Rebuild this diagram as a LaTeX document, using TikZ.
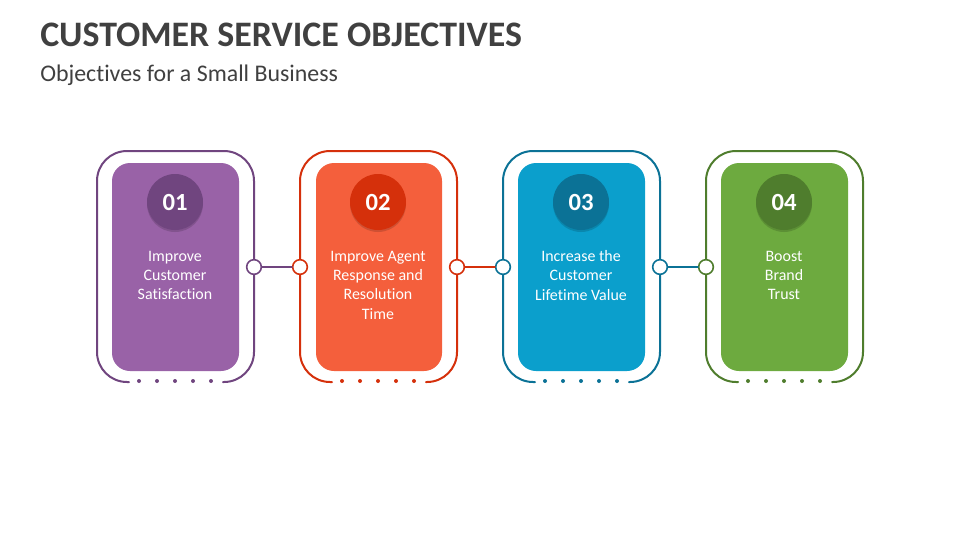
\documentclass[tikz,border=0pt]{standalone}
\usepackage{fontspec}
\setmainfont{Carlito}[Ligatures=NoCommon]
\definecolor{purplefill}{HTML}{9962A7}
\definecolor{purpledark}{HTML}{70457F}
\definecolor{orangefill}{HTML}{F45F3C}
\definecolor{orangedark}{HTML}{D5300B}
\definecolor{bluefill}{HTML}{0B9FCC}
\definecolor{bluedark}{HTML}{0B7296}
\definecolor{greenfill}{HTML}{6DAA3F}
\definecolor{greendark}{HTML}{4F7D2D}
\definecolor{titlegray}{HTML}{404040}
\tikzset{
  frameline/.style={line width=1.5pt,rounded corners=22.5pt},
  cardbox/.style={rounded corners=13.5pt},
  numdisc/.style={circle,minimum size=42pt,inner sep=0pt,text=white,font=\fontsize{18.5}{20}\selectfont\bfseries},
  discshadow/.style={circle,minimum size=42pt,inner sep=0pt,fill=black,opacity=0.15},
  cardtext/.style={text=white,align=center,anchor=north,execute at begin node=\strut,font=\fontsize{11.95}{14.4}\selectfont},
  portdot/.style={circle,draw,fill=white,line width=1.2pt,minimum size=11pt,inner sep=0pt},
  framedot/.style={circle,minimum size=3pt,inner sep=0pt}
}
\begin{document}
\begin{tikzpicture}[line cap=round,line join=round,x=0.75pt,y=-0.75pt]
\useasboundingbox (0,0) rectangle (960,540);
\node[anchor=base west,inner sep=0pt,text=titlegray,font=\fontsize{26.9}{30}\selectfont\bfseries] (title) at (40,46) {CUSTOMER SERVICE OBJECTIVES};
\node[anchor=base west,inner sep=0pt,text=titlegray,font=\fontsize{17.9}{20}\selectfont] (subtitle) at (40,81) {Objectives for a Small Business};
% first card
\draw[frameline,purpledark] (129,382)-- (97,382)-- (97,151)-- (254,151)-- (254,382)-- (223,382);
\fill[cardbox,purplefill] (112,163) rectangle (239,371);
\node[discshadow] (shadowa) at (175,204) {};
\node[numdisc,fill=purpledark] (disca) at (175,202) {01};
\node[cardtext] (texta) at (175,246.5) {Improve\\Customer\\Satisfaction};
\node[framedot,fill=purpledark] (dota1) at (139,381) {};
\node[framedot,fill=purpledark] (dota2) at (157,381) {};
\node[framedot,fill=purpledark] (dota3) at (175,381) {};
\node[framedot,fill=purpledark] (dota4) at (193,381) {};
\node[framedot,fill=purpledark] (dota5) at (211,381) {};
% second card
\draw[frameline,orangedark] (332,382)-- (300,382)-- (300,151)-- (457,151)-- (457,382)-- (426,382);
\fill[cardbox,orangefill] (316,163) rectangle (442,371);
\node[discshadow] (shadowb) at (378,204) {};
\node[numdisc,fill=orangedark] (discb) at (378,202) {02};
\node[cardtext] (textb) at (378,246.5) {Improve Agent\\Response and\\Resolution\\Time};
\node[framedot,fill=orangedark] (dotb1) at (342,381) {};
\node[framedot,fill=orangedark] (dotb2) at (360,381) {};
\node[framedot,fill=orangedark] (dotb3) at (378,381) {};
\node[framedot,fill=orangedark] (dotb4) at (396,381) {};
\node[framedot,fill=orangedark] (dotb5) at (414,381) {};
% third card
\draw[frameline,bluedark] (535,382)-- (503,382)-- (503,151)-- (660,151)-- (660,382)-- (629,382);
\fill[cardbox,bluefill] (518,163) rectangle (645,371);
\node[discshadow] (shadowc) at (581,204) {};
\node[numdisc,fill=bluedark] (discc) at (581,202) {03};
\node[cardtext] (textc) at (581,246) {Increase the\\Customer\\Lifetime Value};
\node[framedot,fill=bluedark] (dotc1) at (545,381) {};
\node[framedot,fill=bluedark] (dotc2) at (563,381) {};
\node[framedot,fill=bluedark] (dotc3) at (581,381) {};
\node[framedot,fill=bluedark] (dotc4) at (599,381) {};
\node[framedot,fill=bluedark] (dotc5) at (617,381) {};
% fourth card
\draw[frameline,greendark] (738,382)-- (706,382)-- (706,151)-- (863,151)-- (863,382)-- (832,382);
\fill[cardbox,greenfill] (721,163) rectangle (848,371);
\node[discshadow] (shadowd) at (784,204) {};
\node[numdisc,fill=greendark] (discd) at (784,202) {04};
\node[cardtext] (textd) at (784,246.5) {Boost\\Brand\\Trust};
\node[framedot,fill=greendark] (dotd1) at (748,381) {};
\node[framedot,fill=greendark] (dotd2) at (766,381) {};
\node[framedot,fill=greendark] (dotd3) at (784,381) {};
\node[framedot,fill=greendark] (dotd4) at (802,381) {};
\node[framedot,fill=greendark] (dotd5) at (820,381) {};
% links between cards
\node[portdot,draw=purpledark] (porta) at (254,267) {};
\node[portdot,draw=orangedark] (portb) at (300,267) {};
\node[portdot,draw=orangedark] (portc) at (457,267) {};
\node[portdot,draw=bluedark] (portd) at (503,267) {};
\node[portdot,draw=bluedark] (porte) at (660,267) {};
\node[portdot,draw=greendark] (portf) at (706,267) {};
\draw[line width=1.5pt,purpledark] (porta)-- (portb);
\draw[line width=1.5pt,orangedark] (portc)-- (portd);
\draw[line width=1.5pt,bluedark] (porte)-- (portf);
\end{tikzpicture}
\end{document}
